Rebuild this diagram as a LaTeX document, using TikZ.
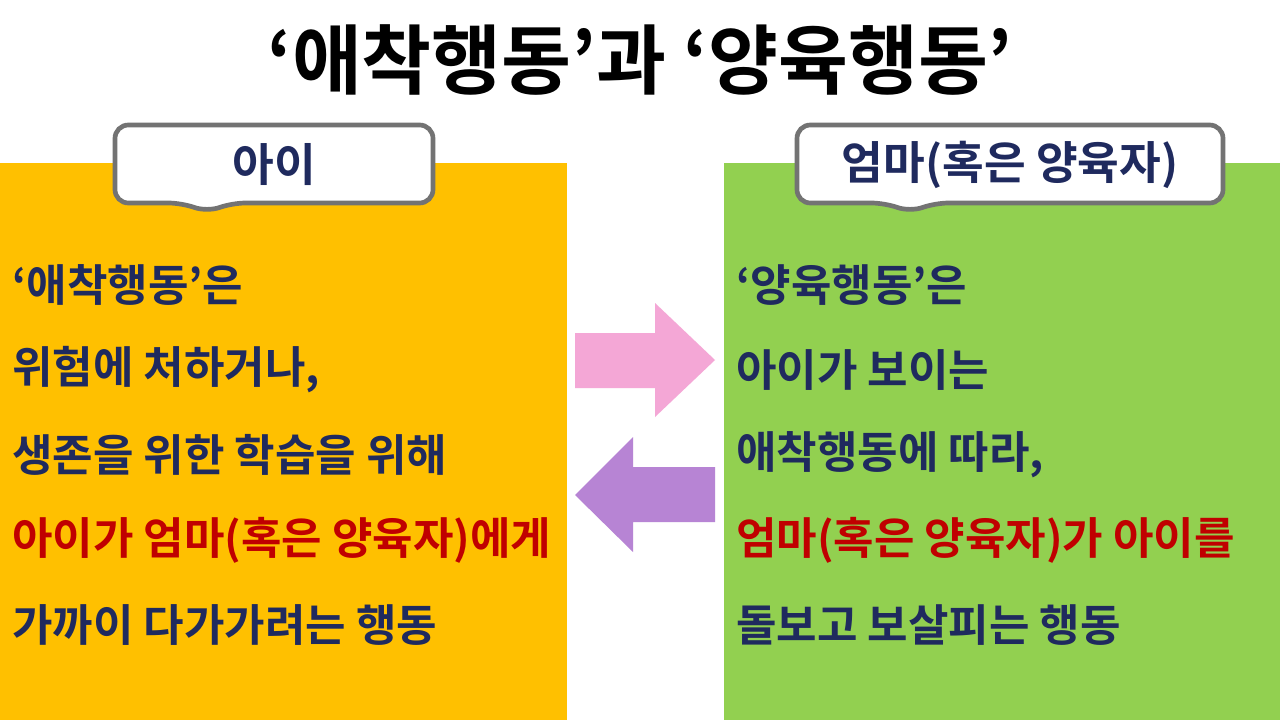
\documentclass[tikz,border=0pt]{standalone}
\usepackage{fontspec}
\setmainfont{Noto Sans CJK KR}[BoldFont={* Bold}]
\definecolor{navy}{HTML}{1F2A5E}
\definecolor{redt}{HTML}{C00000}
\definecolor{orangebg}{HTML}{FFC000}
\definecolor{greenbg}{HTML}{92D050}
\definecolor{pinkar}{HTML}{F4A7D6}
\definecolor{purpar}{HTML}{B784D4}
\tikzset{
  txt/.style={anchor=west,font=\fontsize{33}{38}\selectfont\bfseries,text=navy,inner sep=0pt},
  call/.style={draw=gray!90!black,line width=3.5pt,fill=white,rounded corners=10pt},
  calltxt/.style={font=\fontsize{34}{38}\selectfont\bfseries,text=navy,inner sep=0pt}
}
\begin{document}
\begin{tikzpicture}[x=0.75pt,y=-0.75pt]
\useasboundingbox (0,0) rectangle (1280,720);
\fill[white] (0,0) rectangle (1280,720);
\node[font=\fontsize{57}{60}\selectfont\bfseries,inner sep=0pt] (title) at (640,60) {‘애착행동’과 ‘양육행동’};
\fill[orangebg] (0,163) rectangle (567,720);
\fill[greenbg] (724,163) rectangle (1280,720);
% callouts
\draw[call] (115,125) -- (433,125) -- (433,203) -- (232,203) -- (207,212) -- (182,203) -- (115,203) -- cycle;
\node[calltxt] (c1) at (274,165) {아이};
\draw[call] (797,125) -- (1223,125) -- (1223,203) -- (935,203) -- (910,212) -- (885,203) -- (797,203) -- cycle;
\node[calltxt] (c2) at (1010,165) {엄마(혹은 양육자)};
% arrows
\fill[pinkar] (575,333) -- (655,333) -- (655,303) -- (715,360) -- (655,417) -- (655,388) -- (575,388) -- cycle;
\fill[purpar] (715,467) -- (633,467) -- (633,437) -- (575,495) -- (633,552) -- (633,522) -- (715,522) -- cycle;
% left text
\node[txt] (l1) at (12,285) {‘애착행동’은};
\node[txt] (l2) at (12,370) {위험에 처하거나,};
\node[txt] (l3) at (12,455) {생존을 위한 학습을 위해};
\node[txt,text=redt] (l4) at (12,540) {아이가 엄마(혹은 양육자)에게};
\node[txt] (l5) at (12,625) {가까이 다가가려는 행동};
% right text
\node[txt] (r1) at (736,285) {‘양육행동’은};
\node[txt] (r2) at (736,370) {아이가 보이는};
\node[txt] (r3) at (736,455) {애착행동에 따라,};
\node[txt,text=redt] (r4) at (736,540) {엄마(혹은 양육자)가 아이를};
\node[txt] (r5) at (736,625) {돌보고 보살피는 행동};
\end{tikzpicture}
\end{document}
